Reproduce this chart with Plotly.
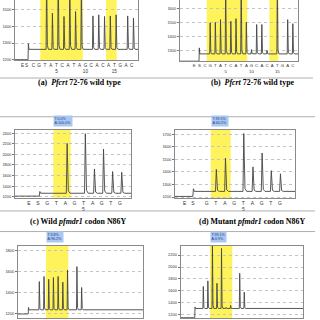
import plotly.graph_objects as go

# ---------------- data ----------------
a_labels = list("ESCGTATCATAGCACATGAC")
a_label_pos = [-0.85, -0.15] + list(range(1, 19))
a_numbered = [5, 10, 15]
a_peak_idx = [3, 4, 5, 6, 7, 8, 9, 11, 12, 13, 14, 15, 17, 18]
a_peak_val = [1720, 1480, 1760, 1460, 1700, 1490, 1650, 1463, 1470, 1460, 1463, 1470, 1463, 1450]
a_levels = [1200, 1262, 1296]          # before S, baseline after S, S spike
a_highlight = [[2.2, 9.55], [13.55, 15.4]]
a_yticks = [1200, 1300, 1400, 1500]
a_caption = "<b>(a)  <i>Pfcrt</i> 72-76 wild type</b>"

b_labels = list("ESCGTATCATAGCACATGAC")
b_label_pos = [-1.07, -0.1] + list(range(1, 19))
b_numbered = [5, 10, 15]
b_peak_idx = [2, 3, 4, 5, 6, 7, 8, 9, 10, 11, 12, 13, 15, 17, 18]
b_peak_val = [1496, 1500, 1519, 1800, 1507, 1526, 1780, 1500, 1305, 1484, 1484, 1300, 1800, 1519, 1490]
b_levels = [1222, 1274, 1317]
b_highlight = [[1.33, 9.2], [13.46, 15.2]]
b_yticks = [1300, 1400, 1500, 1600]
b_caption = "<b>(b)  <i>Pfcrt</i> 72-76 wild type</b>"

c_labels = list("ESGTAGTAGTG")
c_label_pos = [-1, 0] + list(range(1, 10))
c_numbered = [5]
c_peak_idx = [3, 5, 6, 7, 8, 9]
c_peak_val = [2207, 2390, 1725, 2100, 1675, 1662]
c_levels = [1212, 1266, 1300]
c_highlight = [[1.68, 3.59]]
c_yticks = [1200, 1400, 1600, 1800, 2000, 2200, 2400]
c_quant = "T:0.0%<br>A:100.0%"
c_caption = "<b>(c) Wild <i>pfmdr1</i> codon N86Y</b>"

d_labels = list("ESGTAGTAGTG")
d_label_pos = [-1.4, -0.5] + list(range(1, 10))
d_numbered = [5]
d_peak_idx = [2, 3, 5, 6, 7, 8, 9]
d_peak_val = [1420, 1510, 1705, 1440, 1550, 1410, 1385]
d_levels = [1205, 1245, 1266]
d_highlight = [[1.44, 3.62]]
d_yticks = [1200, 1300, 1400, 1500, 1600, 1700]
d_quant = "T:39.5%<br>A:60.5%"
d_caption = "<b>(d) Mutant <i>pfmdr1</i> codon N86Y</b>"

e_s_pos = -1.3
e_peak_idx = [1, 2, 3, 4, 5, 6, 7, 9, 10]
e_peak_val = [1508, 1556, 1530, 1546, 1556, 1502, 1618, 1650, 1452]
e_levels = [1200, 1240, 1262]
e_highlight = [[2.57, 7.32]]
e_yticks = [1200, 1400, 1600, 1800]
e_quant = "T:3.8%<br>A:96.2%"

f_s_pos = -0.82
f_peak_idx = [1, 2, 3, 4, 5, 6, 7, 9, 10]
f_peak_val = [1673, 1767, 2400, 1728, 2312, 1323, 1357, 1895, 1578]
f_levels = [1150, 1305, 1330]
f_highlight = [[2.62, 7.52]]
f_yticks = [1200, 1400, 1600, 1800, 2000, 2200]
f_quant = "T:99.1%<br>A:0.9%"

# ---------------- layout / style ----------------
W = H = 320
panels = [
    dict(labels=a_labels, lpos=a_label_pos, num=a_numbered, s=a_label_pos[1], pk=a_peak_idx, pv=a_peak_val,
         lv=a_levels, hl=a_highlight, yt=a_yticks, quant=None, px=[15, 138], py=[0, 60.7],
         xr=[-2.16, 19.08], yr=[1196, 1559], shift=0.3, top=False, fs=4.6),
    dict(labels=b_labels, lpos=b_label_pos, num=b_numbered, s=b_label_pos[1], pk=b_peak_idx, pv=b_peak_val,
         lv=b_levels, hl=b_highlight, yt=b_yticks, quant=None, px=[180, 298], py=[0, 61.7],
         xr=[-3.84, 19.0], yr=[1221, 1659], shift=0.0, top=False, fs=4.3),
    dict(labels=c_labels, lpos=c_label_pos, num=c_numbered, s=c_label_pos[1], pk=c_peak_idx, pv=c_peak_val,
         lv=c_levels, hl=c_highlight, yt=c_yticks, quant=c_quant, px=[15, 131], py=[130.7, 199],
         xr=[-2.53, 10.22], yr=[1181, 2462], shift=0.2, top=True, fs=5),
    dict(labels=d_labels, lpos=d_label_pos, num=d_numbered, s=d_label_pos[1], pk=d_peak_idx, pv=d_peak_val,
         lv=d_levels, hl=d_highlight, yt=d_yticks, quant=d_quant, px=[175, 295], py=[130.7, 199.3],
         xr=[-2.46, 10.64], yr=[1192, 1734], shift=0.05, top=True, fs=5),
    dict(labels=None, lpos=None, num=None, s=e_s_pos, pk=e_peak_idx, pv=e_peak_val,
         lv=e_levels, hl=e_highlight, yt=e_yticks, quant=e_quant, px=[18, 143], py=[247.5, 320],
         xr=[-3.38, 23.2], yr=[1162, 1846], shift=0.15, top=True, fs=5),
    dict(labels=None, lpos=None, num=None, s=f_s_pos, pk=f_peak_idx, pv=f_peak_val,
         lv=f_levels, hl=f_highlight, yt=f_yticks, quant=f_quant, px=[180.7, 303], py=[247.5, 320],
         xr=[-3.82, 23.06], yr=[1145, 2353], shift=0.15, top=True, fs=5),
]

captions = [
    (a_caption, 79, 83.3), (b_caption, 252.5, 82.7),
    (c_caption, 78.3, 222.7), (d_caption, 252, 222.7),
]
rules = [(78.5, 0, 313), (117.5, 0, 315), (212.3, 0, 315), (233, 0, 315)]

YELLOW = "#fff35c"
LINE = "#454545"
AX = "#8a8a8a"
GRID = "#c4c4c4"

fig = go.Figure()
layout = dict(width=W, height=H, margin=dict(l=0, r=0, t=0, b=0), paper_bgcolor="white",
              plot_bgcolor="white", showlegend=False, shapes=[], annotations=[])


def trace_xy(p):
    pre, base, spike = p["lv"]
    sh = p["shift"]
    sp = p["s"] + sh
    xs = [p["xr"][0], sp - 0.06, sp, sp + 0.1]
    ys = [pre, pre, spike, base]
    for i, v in zip(p["pk"], p["pv"]):
        c = i + sh
        xs += [c - 0.09, c, c + 0.13, c + 0.32]
        ys += [base, v, base + (v - base) * 0.05, base]
    xs.append(p["xr"][1])
    ys.append(base)
    return xs, ys


for k, p in enumerate(panels):
    n = k + 1
    xa = "x" if n == 1 else f"x{n}"
    ya = "y" if n == 1 else f"y{n}"
    xs, ys = trace_xy(p)
    fig.add_trace(go.Scatter(x=xs, y=ys, mode="lines", xaxis=xa, yaxis=ya,
                             line=dict(color=LINE, width=0.9), hoverinfo="skip"))
    dx = [p["px"][0] / W, p["px"][1] / W]
    dy = [1 - p["py"][1] / H, 1 - p["py"][0] / H]
    if p["labels"] is not None:
        ttext = []
        disp = 0
        for j, lab in enumerate(p["labels"]):
            if j >= 2:
                disp += 1
            ttext.append(lab + ("<br>" + str(disp) if j >= 2 and disp in p["num"] else ""))
        xaxis = dict(tickvals=p["lpos"], ticktext=ttext, showticklabels=True)
    else:
        xaxis = dict(showticklabels=False)
    xaxis.update(domain=dx, range=p["xr"], anchor=ya, showgrid=False, zeroline=False,
                 showline=True, linecolor=AX, linewidth=0.8, mirror=p["top"], ticks="",
                 tickangle=0, ticklabeloverflow="allow",
                 tickfont=dict(size=p["fs"], color="#333", family="Liberation Sans"))
    yaxis = dict(domain=dy, range=p["yr"], anchor=xa, tickvals=p["yt"], showgrid=True,
                 gridcolor=GRID, griddash="dot", gridwidth=0.7, zeroline=False, showline=True,
                 linecolor=AX, linewidth=0.8, mirror=True, ticks="outside", ticklen=2,
                 tickcolor="#777", tickfont=dict(size=4, color="#333", family="Liberation Sans"))
    layout["xaxis" if n == 1 else f"xaxis{n}"] = xaxis
    layout["yaxis" if n == 1 else f"yaxis{n}"] = yaxis
    for x0, x1 in p["hl"]:
        layout["shapes"].append(dict(type="rect", xref=xa, yref=f"{ya} domain", x0=x0, x1=x1,
                                     y0=0, y1=1, fillcolor=YELLOW, line=dict(width=0), layer="below"))
    if p["quant"]:
        layout["annotations"].append(dict(
            xref=xa, yref="paper", x=p["hl"][0][0], y=1 - (p["py"][0] - 3.2) / H,
            xanchor="left", yanchor="bottom", text=p["quant"], showarrow=False, align="left",
            bgcolor="#a9c7ef", borderpad=0.6, font=dict(size=3.6, color="#1d3a8a", family="Liberation Sans")))

for txt, cx, cy in captions:
    layout["annotations"].append(dict(xref="paper", yref="paper", x=cx / W, y=1 - cy / H,
                                      xanchor="center", yanchor="middle", text=txt, showarrow=False,
                                      font=dict(size=7.9, color="black", family="Liberation Serif")))
for yy, x0, x1 in rules:
    layout["shapes"].append(dict(type="line", xref="paper", yref="paper", x0=x0 / W, x1=x1 / W,
                                 y0=1 - yy / H, y1=1 - yy / H, line=dict(color="#9a9a9a", width=0.8)))

fig.update_layout(**layout)
fig.write_html("out.html")
